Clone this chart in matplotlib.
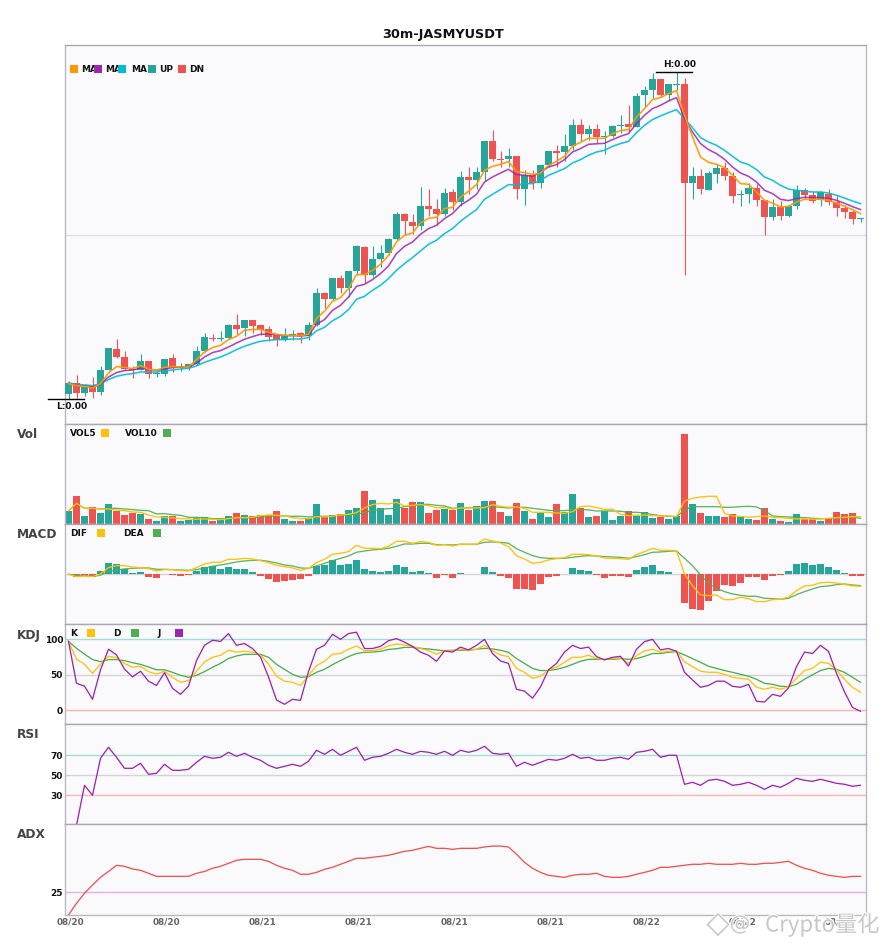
import numpy as np
import matplotlib
matplotlib.use("Agg")
import matplotlib.pyplot as plt
import matplotlib.patheffects as pe
from matplotlib.patches import Rectangle

title = "30m-JASMYUSDT"
x_labels = ["08/20", "08/20", "08/21", "08/21", "08/21", "08/21", "08/22", "08/22", "08/22"]

opens = [30.3,41.7,31,38.7,32.3,54.7,75,67,55.7,54.7,63,50.7,50,66,56.7,57,60,73,86.7,85,
         86,99,96,104,99,95,89,84,88,91,88,99,131,125,146,136,153,177,149,165,
         171,185,210,202,198,218,215,210,232,222,247,244,252,283,265,265,268,235,249,241,
         259,273,272,278,299,290,295,287,288,298,300,297,329,334,345,329,339,340,241,248,
         234,250,256,248,229,230,236,224,207,217,208,218,234,229,224,230,222,216,212,205]
closes = [41.7,31,38.7,32.3,54.7,76,67.3,55,54.7,63,50.7,51.7,65,56.7,58,60,73,87,85,85.7,
          99,95,104,98,94,87,84,88,90,88,99,131,125,146,136,153,178,149,165,171,
          185,210,203,198,218,215,210,231,222,247,244,252,283,265,264,268,235,249,241,259,
          273,271,278,299,290,295,287,288,298,299,297,328,334,345,329,340,340,241,248,235,
          251,256,248,228,230,236,224,207,217,208,218,234,229,223,232,222,216,212,205,206]
highs = [43,49,40.7,47,58,76,85,73,58.7,70,63,54.7,65,70,61,60,78,91,90,93,
         100,110,104,104,99,98,89,96,94,92,102,136,132,146,149,153,179,178,178,179,
         186,212,211,210,237,235,225,236,235,253,257,257,283,294,273,276,268,254,254,259,
         273,279,290,305,305,299,300,293,299,309,319,331,338,351,345,340,352,346,257,255,
         253,260,262,252,234,241,240,224,225,223,219,239,236,233,233,235,229,219,214,206]
lows = [25.6,26.3,28.3,26.5,29.3,54,66.3,54,46,54,46,47,48,52.7,53,54.7,59,72,83,83,
        85.3,90,88,91,89,83,78,83,84,81,84,98,116,124,131,127,149,141,147,157,
        169,184,189,190,194,208,199,208,214,218,230,235,243,263,257,257,225,219,235,236,
        257,257,263,274,283,284,281,270,287,291,292,297,317,326,327,323,334,149,225,230,
        234,241,244,221,218,221,218,189,204,204,207,215,225,221,218,219,208,206,200,202]

ma5 = [40.7,38.7,38,36.3,40.7,51.3,57.7,57,55.7,58.7,55.3,54,57,57.7,57.3,57.3,64.7,72.3,76.7,79,
       84.7,88,94,94.7,95,92,90,89,88.7,88.7,90,106,113,123,126.7,135.7,149.7,149.7,154,160,
       169,182.3,189,191.3,201.3,206,207,215.7,217,227.3,233,239.7,254,258,260,262.7,252.7,251.7,249.7,251.3,
       259,263,268,278,282,286,286,286,290.7,293.7,294.7,307.3,315.7,324.7,326.7,330.7,333.7,309,287.3,267.3,
       262,260,256.7,249,240.7,240,232.3,224,221.3,217.3,218,222.3,225,225,225,224,221.3,218,214.7,210.7]
ma10 = [40.7,39,38.3,37.3,40,47.3,51.7,53.7,54.3,56,55.3,54,55.3,56.7,57.3,57.3,61,67.3,71.7,73.7,
        77.3,81.3,85,87.7,90,90.3,89.7,88.7,88.7,88.3,89,100,104.7,114,119,127.3,138,140,144.7,150.7,
        158.3,170.7,178,182.3,190,195.7,199,205.7,210.7,219,224,230,242.3,247.3,251.3,255,249.7,249,248,252.3,
        257.3,259.7,264.7,272.3,275.7,280,280.5,281,284.7,288,290.7,300.7,309,315.7,319,323.3,326.7,305.7,292.3,280.7,
        274.7,270.7,265,257.3,251.3,248,242.3,234,230.7,225,223.7,225.7,227,226.7,226.7,226,224,221,217.7,214.7]
ma20 = [41.3,40,39.3,38.7,40.7,44.7,48,49.7,50.7,52.3,52.3,52.3,53.3,54.3,55.3,56,58.3,62,64.7,67.3,
        70.7,74.7,78,80.7,83,84,84.7,84.7,85.3,85.3,86.7,93.5,97,103.5,108,114.7,125,128,134,139,
        145.7,154,160.7,166.7,173.3,180,184,190.7,195.7,203,209,214.7,225,230,234.7,239.7,239,240.7,240.7,244,
        249,252.3,255.7,261.3,264.7,269,272.3,274,278,280.7,283,291.7,299,304.7,308.3,311.7,314.7,305.7,296.7,286.7,
        282.3,279,274,268,262.3,259.7,254.7,247.3,244,239,235.3,234,233,232.3,232.3,231.3,229,226.3,223.3,220.7]

volume = [40,85,25,52,34,61,40,28,34,31,16,10,25,25,10,13,19,22,10,16,
          25,34,28,25,28,28,40,16,10,10,19,61,22,28,31,43,49,100,73,49,
          28,76,49,67,67,34,43,46,43,64,43,55,70,70,37,25,64,40,16,34,
          22,61,37,91,49,22,25,40,13,25,40,25,37,19,22,16,25,271,61,34,
          25,25,22,31,22,16,13,49,16,10,7,31,16,16,10,16,37,31,34,1]
vol5 = [40,63,48,48,46,46,43,41,37,36,28,22,21,19,17,16,15,16,15,14,
        17,20,20,21,26,28,27,25,20,17,17,23,22,24,28,30,35,49,59,63,
        61,66,55,57,59,56,50,50,46,49,49,49,50,59,54,51,52,48,36,36,
        36,34,33,38,53,55,50,45,45,30,26,27,28,26,25,25,23,70,78,82,
        84,84,33,25,24,21,23,25,21,20,18,16,16,15,16,18,20,21,23,23]
vol10 = [40,63,48,48,46,48,48,46,44,42,41,31,32,29,27,21,21,20,17,17,
         18,19,19,20,21,24,25,25,24,24,22,24,24,25,27,29,29,36,41,45,
         47,48,53,56,59,60,57,55,48,49,50,51,52,53,51,49,51,51,48,45,
         42,41,41,43,45,43,40,40,40,39,36,36,34,29,26,24,23,43,53,53,
         53,53,51,51,53,54,52,41,25,23,22,21,20,18,17,17,18,20,21,18]

dif = [0,-7,-5,-7,1,20,26,26,22,20,17,10,14,14,11,10,20,31,36,36,
       45,45,48,46,41,35,27,23,19,12,18,35,45,60,63,68,87,78,78,77,
       84,99,99,93,98,96,87,89,85,90,90,90,106,100,94,83,56,46,33,36,
       43,47,50,60,60,59,55,49,48,47,45,59,68,78,72,72,71,1,-34,-62,
       -64,-62,-76,-76,-69,-73,-82,-82,-76,-75,-68,-49,-35,-33,-25,-24,-26,-30,-35,-36]
dea = [0,-3,-4,-6,-3,10,13,16,18,19,19,15,15,14,13,12,14,19,24,28,
       32,37,40,42,42,39,34,28,25,19,18,25,33,41,48,55,66,70,73,75,
       78,84,91,91,93,93,89,89,88,90,90,90,96,97,96,93,77,66,56,50,
       48,48,48,51,54,56,55,53,52,51,48,53,59,66,67,69,70,48,26,-2,
       -27,-42,-52,-59,-63,-66,-66,-72,-73,-75,-72,-61,-52,-44,-37,-35,-31,-29,-32,-34]
macd_hist = [0,-7,-6,-7,9,34,30,15,3,6,-8,-11,0,-2,-5,-2,9,21,24,15,
             21,15,15,6,-5,-14,-23,-20,-17,-14,-5,24,28,42,27,30,42,15,9,6,
             9,27,21,6,9,3,-11,-2,-11,3,0,0,21,6,-5,-11,-44,-44,-47,-29,
             -8,-5,0,18,12,9,-2,-11,-5,-5,-8,12,21,27,9,6,0,-86,-104,-107,
             -80,-50,-32,-35,-26,-8,-8,-17,-5,-2,9,30,33,27,30,21,12,3,-5,-5]

k_line = [97,72,65,52,65,76,74,66,60.6,62,54.5,51,55,46.5,39.4,42,55,68,74.6,77.5,
          84.5,82,83,82,78,65,48,41,39.4,35,48.8,63,69,79,80,86,90.6,84,84,86,
          90.6,93.4,92,90,87,84,79,84,83.6,86,84.5,86,91.5,84,78,75.6,59,53.5,45,48,
          57,60.6,67.6,74.6,74.6,77.5,73,71.4,72.8,73.8,66,77,83.6,86,81.7,83,83.6,68.5,61.5,55,
          53.5,53.5,50.7,46.5,45,43.7,32.4,29.6,32.4,29.6,33.3,45,56,59,68,66,57,43.7,32.4,25.4]
d_line = [97,87.3,79,71.4,68.5,71.4,71.4,70,67,64.7,61,57,57,53.5,49.3,46.5,49.3,54.5,60.6,66,
          73,76.5,78.8,78.8,78.8,74.6,64.7,57.7,50.7,46.5,47.4,53.5,57.7,64.3,70,75.6,80,81.7,82,83,
          85.7,86.7,88.6,88.6,87.3,86.4,85,84,84.5,84.5,84.5,86,87.3,86.4,84.5,81.7,72.8,66,59,56,
          56,57.7,60.6,64.7,69,71.8,71.8,71.8,71.8,72.8,71.8,72.8,76,80,80,81.7,82.6,78,72.8,67.6,
          62,59,56,53.5,50.7,48,43.7,38,36.6,33.8,33.3,36.6,43.7,50,56,59,57.7,53.5,46.5,39.4]
j_line = [97,38,34,15.5,57,86,78,58,47,55,41,35,53,31,22.5,34,70,91.5,98.6,97,
          108,91.5,94,87,75,47,14.5,8.5,15.5,14,54.5,86,91.5,107,100,108,110,87,87,90,
          98,101,96,90,82,77.5,69,83.6,82,89,85,91.5,100,80,69.5,66,29.6,27,17,33,
          57,66,82,91.5,87,89,75.6,71,74.6,76,62.4,86,96.7,100,85,87,83,53.5,42.7,32.4,
          35,41,41,33.8,32.4,36.6,12.7,11.7,22.5,19.7,31.5,61.5,82,80,91.5,83,52,26,4,-1.4]

rsi = [0,0,40,30,67,78,68,57,57,62,51,52,61,55,55,56,63,69,67,68,
       73,69,72,68,65,60,57,59,61,59,64,75,71,76,70,74,78,65,68,69,
       72,76,73,71,74,73,71,74,70,75,73,75,79,72,71,72,59,63,60,63,
       66,65,67,71,67,68,65,65,67,68,66,73,74,76,68,70,70,41,43,40,
       45,46,44,40,41,43,40,36,40,38,42,47,45,44,46,44,42,41,39,40]
adx = [0,12.9,24,33,41.5,48,54.8,53.7,50.7,49.3,46,42.6,42.6,42.6,42.6,42.6,46,48,51.5,53.7,
       57,60.3,61.4,61.4,61.4,59.2,54.8,51.5,49.3,44.9,44.9,47,50.4,52.6,55.9,59.2,62.5,62.5,63.6,64.7,
       65.8,68,70.2,71.3,73.5,75.7,73.5,73.5,72.4,73.5,73.5,73.5,75,76,76,75,67,58,51.5,47,
       43.8,42.6,41.5,43.8,44.9,44.9,46,42.6,41.5,41.5,42.6,44.9,47,49.3,52.6,52.6,53.7,54.8,55.9,55.9,
       57,55.9,55.9,55.9,57,55.9,55.9,57,57,58,59.2,54.8,51.5,49.3,46,43.8,42.6,41.5,42.6,42.6]

W, H = 885, 950
GREEN, RED = "#26A69A", "#EF5350"
ORANGE, PURPLE, CYAN = "#FF9800", "#9C27B0", "#00BCD4"
YELLOW, LGREEN = "#FFC107", "#4CAF50"
BG = "#FAFAFD"
SPINE = "#B8B8C0"

fig = plt.figure(figsize=(W / 100, H / 100), dpi=100, facecolor="white")

L, R = 65.3, 865.7
idx = np.arange(len(closes))
XLIM = ((L - 68.5) / 8, (R - 68.5) / 8)


def panel(top, bottom):
    ax = fig.add_axes([L / W, 1 - bottom / H, (R - L) / W, (bottom - top) / H], facecolor=BG)
    ax.set_xlim(*XLIM)
    ax.set_xticks([])
    ax.set_yticks([])
    for side, s in ax.spines.items():
        s.set_color(SPINE)
        s.set_linewidth(1)
    ax.spines["top"].set_color("#A8A8AE")
    return ax


def fx(x):
    return x / W


def fy(y):
    return 1 - y / H


def label(x, y, s, size=6.5, color="#111111", ha="left"):
    fig.text(fx(x), fy(y), s, fontsize=size, fontweight="bold", color=color, ha=ha, va="center",
             family="DejaVu Sans", zorder=5)


def square(x, y, c, w=8, h=8):
    fig.add_artist(Rectangle((fx(x), fy(y + h / 2)), w / W, h / H, transform=fig.transFigure,
                             facecolor=c, edgecolor="none", zorder=6))


def yticks(ax, vals):
    ax.set_yticks(vals)
    ax.set_yticklabels([str(v) for v in vals], fontsize=6.5, fontweight="bold", color="#111111")
    ax.tick_params(axis="y", length=0, pad=1.6)


colors = [GREEN if c >= o else RED for o, c in zip(opens, closes)]
LW = 0.95

# main price panel
ax = panel(45, 424.3)
ax.set_ylim(0, 379.3)
ax.axhline(189.6, color="#E2DEE8", lw=1, zorder=1)
ax.vlines(idx, lows, highs, colors=colors, lw=0.8, zorder=2)
o_arr, c_arr = np.array(opens), np.array(closes)
body = np.maximum(np.abs(c_arr - o_arr), 1.0)
ax.bar(idx, body, bottom=np.minimum(o_arr, c_arr), width=0.76, color=colors, zorder=3)
ax.plot(idx, ma20, color=CYAN, lw=1.15, alpha=0.9, zorder=4)
ax.plot(idx, ma10, color=PURPLE, lw=1.15, alpha=0.85, zorder=4)
ax.plot(idx, ma5, color=ORANGE, lw=1.15, alpha=0.95, zorder=4)

hi_i, lo_i = int(np.argmax(highs)), int(np.argmin(lows))
ax.plot([hi_i - 2.55, hi_i + 1.95], [highs[hi_i]] * 2, color="black", lw=1.0, zorder=5)
ax.text(hi_i + 0.45, highs[hi_i] + 3, "H:0.00", fontsize=6.5, fontweight="bold", ha="center", va="bottom", color="#111111")
ax.plot([lo_i - 2.55, lo_i + 1.95], [lows[lo_i]] * 2, color="black", lw=1.0, zorder=5, clip_on=False)
ax.text(lo_i + 0.4, lows[lo_i] - 3.5, "L:0.00", fontsize=6.5, fontweight="bold", ha="center", va="top", color="#111111")

for sx, tx, c, t in [(70, 81, ORANGE, "MA"), (94, 105, PURPLE, "MA"), (118, 131, CYAN, "MA"),
                     (148, 159, GREEN, "UP"), (178, 189, RED, "DN")]:
    label(tx, 69, t)
    square(sx, 69, c)

# volume
ax = panel(424.3, 524.3)
ax.set_ylim(0, 300)
ax.bar(idx, volume, width=0.76, color=colors, zorder=2)
ax.plot(idx, vol10, color=LGREEN, lw=LW, alpha=0.9, zorder=3)
ax.plot(idx, vol5, color=YELLOW, lw=LW, zorder=4)
label(70, 433.5, "VOL5")
square(101, 433, YELLOW)
label(125, 433.5, "VOL10")
square(163, 433, LGREEN)

# MACD
ax = panel(524.3, 624.3)
ax.set_ylim(-150, 150)
ax.axhline(0, color="#D4D4D8", lw=1, zorder=1)
ax.bar(idx, macd_hist, width=0.76, color=[GREEN if v >= 0 else RED for v in macd_hist], zorder=2)
ax.plot(idx, dea, color=LGREEN, lw=LW, alpha=0.9, zorder=3)
ax.plot(idx, dif, color=YELLOW, lw=LW, zorder=4)
label(70, 533.5, "DIF")
square(97, 533, YELLOW)
label(123, 533.5, "DEA")
square(153, 533, LGREEN)

# KDJ
ax = panel(624.3, 724.3)
ax.set_ylim(-19.7, 121.1)
ax.axhline(100, color="#A6DCD8", lw=1, zorder=1)
ax.axhline(50, color="#D4D4D8", lw=1, zorder=1)
ax.axhline(0, color="#FFB4B4", lw=1, zorder=1)
ax.plot(idx, d_line, color=LGREEN, lw=LW, zorder=3)
ax.plot(idx, k_line, color=YELLOW, lw=LW, zorder=4)
ax.plot(idx, j_line, color=PURPLE, lw=LW, zorder=5)
yticks(ax, [0, 50, 100])
label(70, 633.5, "K")
square(87, 633, YELLOW)
label(113, 633.5, "D")
square(131, 633, LGREEN)
label(157, 633.5, "J")
square(175, 633, PURPLE)

# RSI
ax = panel(724.3, 824.3)
ax.set_ylim(1, 101)
ax.axhline(70, color="#A6DCD8", lw=1, zorder=1)
ax.axhline(50, color="#D4D4D8", lw=1, zorder=1)
ax.axhline(30, color="#FFB4B4", lw=1, zorder=1)
ax.plot(idx, rsi, color=PURPLE, lw=LW, zorder=3)
yticks(ax, [30, 50, 70])

# ADX
ax = panel(824.3, 915)
ax.set_ylim(0, 100)
ax.axhline(25, color="#E0B0EC", lw=1, zorder=1)
ax.plot(idx, adx, color=RED, lw=LW, zorder=3)
yticks(ax, [25])
ax.set_xticks(np.arange(len(x_labels)) * 12 + 0.2)
ax.set_xticklabels(x_labels, fontsize=6.4, fontweight="bold", color="#666666")
ax.tick_params(axis="x", length=0, pad=1.5)

for y, t in [(435, "Vol"), (535, "MACD"), (635, "KDJ"), (735, "RSI"), (835, "ADX")]:
    label(17, y, t, size=8.7, color="#444444")

fig.text(fx(443.5), fy(34.5), title, fontsize=9.3, fontweight="bold", color="#111111", ha="center", va="center")

# watermark
halo = [pe.withStroke(linewidth=1.5, foreground="white")]
fig.text(fx(765), fy(925), "Crypto量化", fontsize=16, color="#C8C8C8", ha="left", va="center",
         family=["Noto Sans CJK SC", "DejaVu Sans"], zorder=10, path_effects=halo)
fig.text(fx(740), fy(924), "@", fontsize=15, color="#C8C8C8", ha="center", va="center",
         family="DejaVu Sans", zorder=10, path_effects=halo)
fig.text(fx(718), fy(924), "◇", fontsize=22, color="#C8C8C8", ha="center", va="center",
         family="DejaVu Sans", zorder=10, path_effects=halo)

fig.savefig("out.png", dpi=100, facecolor="white")
